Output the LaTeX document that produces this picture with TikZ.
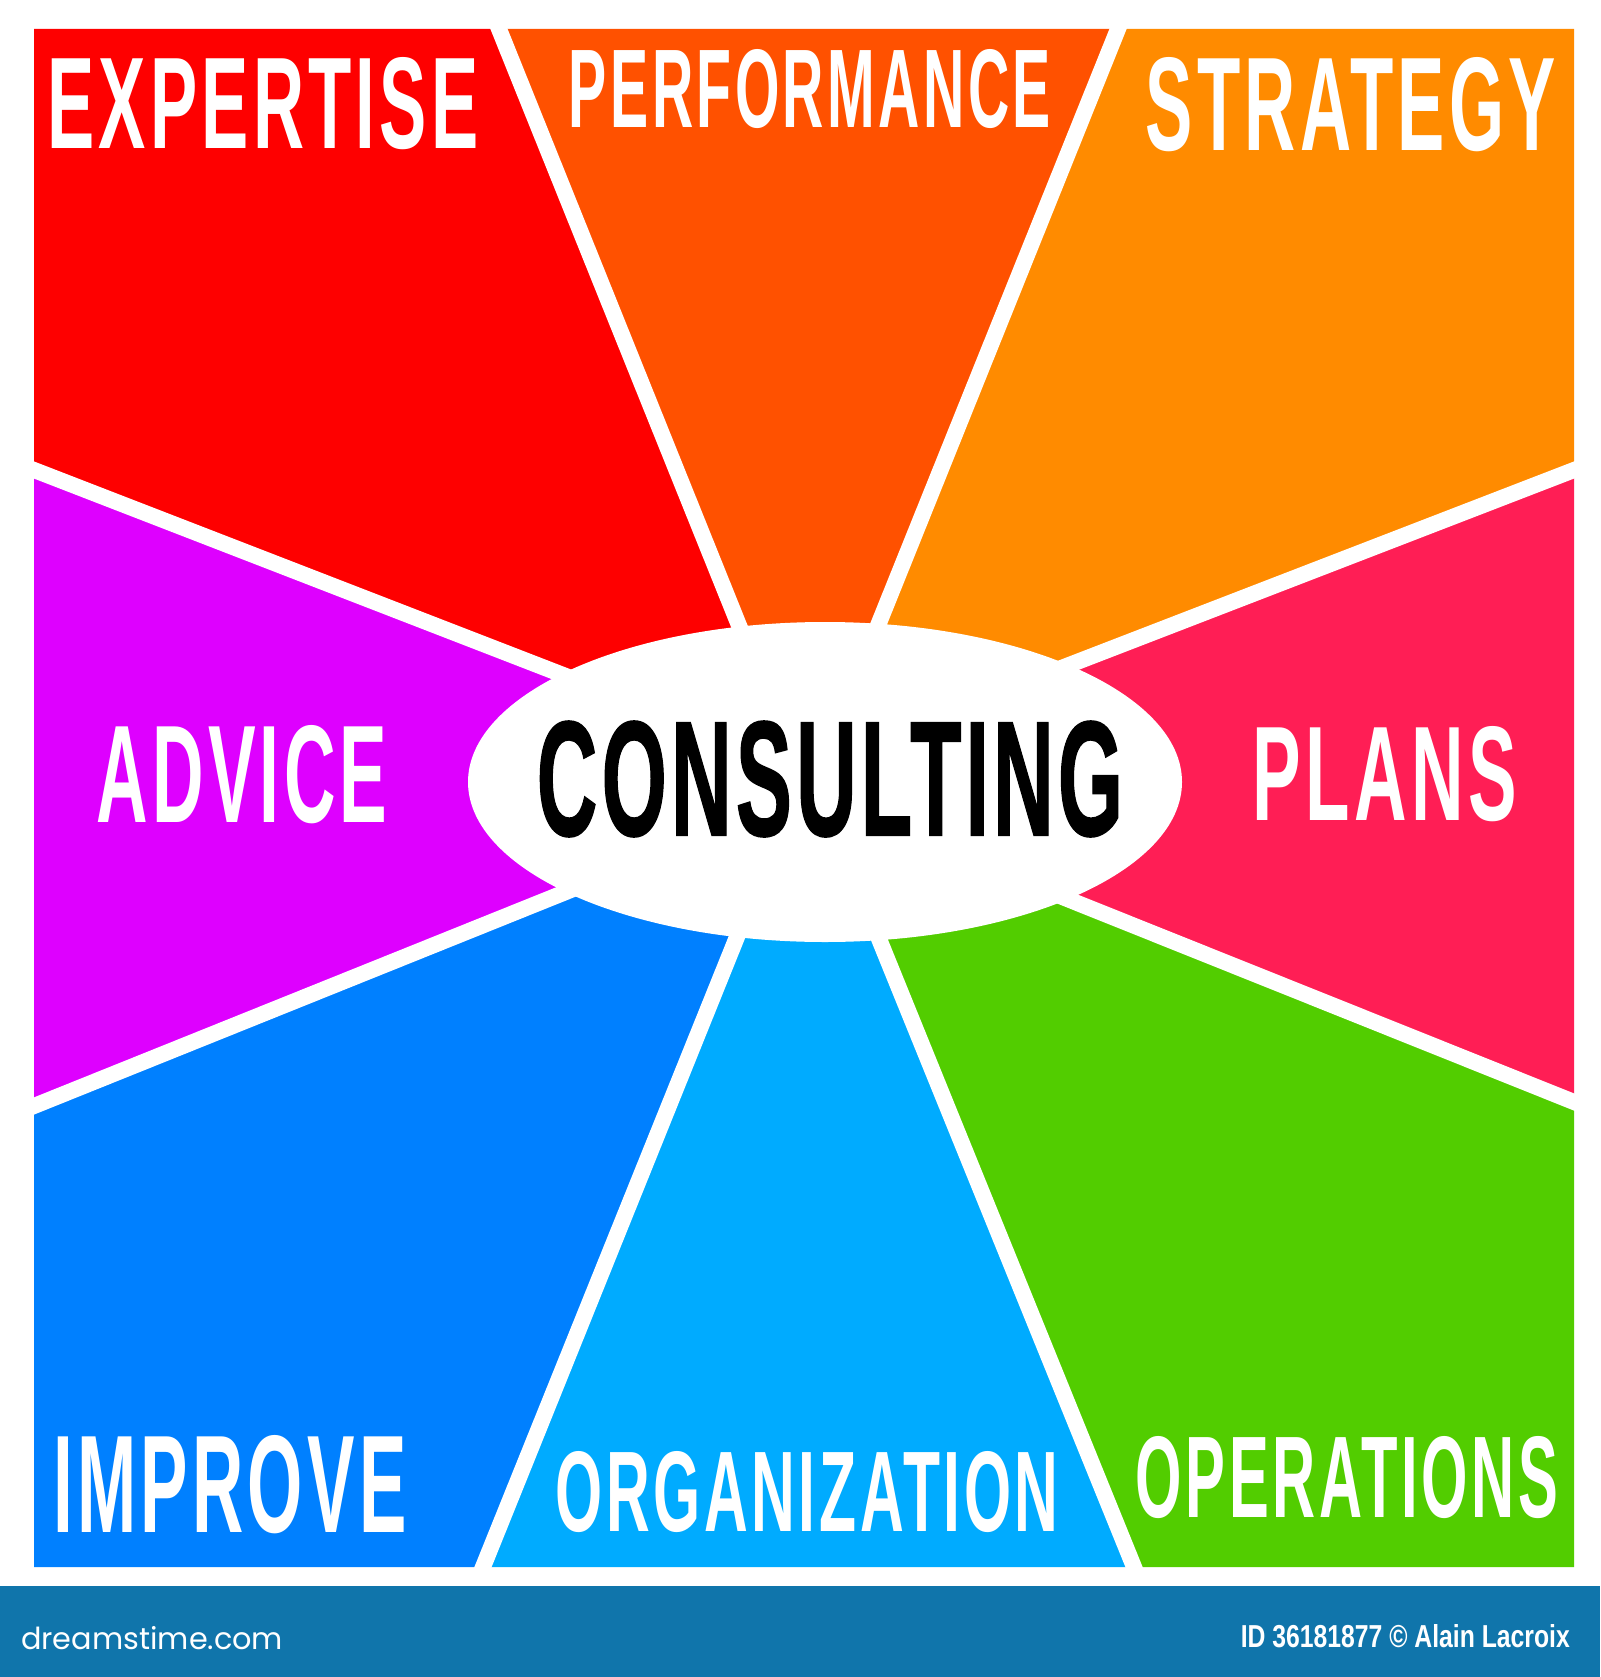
\documentclass[tikz,border=0pt]{standalone}
\usepackage{fontspec}
\usepackage{graphicx}
\usetikzlibrary{positioning}
\usetikzlibrary{calc}
\usetikzlibrary{shapes.geometric}
\setmainfont{Liberation Sans}
\newfontfamily\wedgefont{Liberation Sans}[LetterSpace=6]
\newfontfamily\hubfont{Liberation Sans}[FakeBold=1.2,LetterSpace=5]
\newfontfamily\sitefont{Poppins}

\definecolor{expertisered}{HTML}{FE0000}
\definecolor{performanceorange}{HTML}{FF5100}
\definecolor{strategyorange}{HTML}{FF8B00}
\definecolor{planspink}{HTML}{FF1E55}
\definecolor{operationsgreen}{HTML}{52CD00}
\definecolor{organizationblue}{HTML}{00ABFF}
\definecolor{improveblue}{HTML}{0080FF}
\definecolor{advicemagenta}{HTML}{DE00FF}
\definecolor{barblue}{HTML}{1075AB}

\tikzset{
  gap/.style={white, line width=16pt, shorten <=-14pt},
  wedgelabel/.style={text=white, inner sep=0pt, font=\wedgefont\bfseries},
  hub/.style={ellipse, fill=white, inner sep=0pt, minimum width=714pt, minimum height=320pt},
  hubtext/.style={inner sep=0pt, font=\hubfont\bfseries},
  bartext/.style={text=white, inner sep=0pt},
}
\newcommand{\fitbox}[3]{\resizebox{#1pt}{#2pt}{#3}}

\begin{document}
\begin{tikzpicture}[x=1pt,y=-1pt]
          \useasboundingbox (0,0) rectangle (1600,1677);
          \fill[white] (0,0) rectangle (1600,1677);

          % square corners and the middle
          \coordinate (tl) at (34,29);
          \coordinate (tr) at (1574,29);
          \coordinate (br) at (1574,1567);
          \coordinate (bl) at (34,1567);
          \coordinate (c) at (825,782);

          % white gaps: outer end on the edge, inner end under the oval
          \coordinate (gap1-out) at (499,29);    \coordinate (gap1-in) at (769,700);
          \coordinate (gap2-out) at (1118,29);   \coordinate (gap2-in) at (848,700);
          \coordinate (gap3-out) at (1574,470);  \coordinate (gap3-in) at (950,711);
          \coordinate (gap4-out) at (1574,1102); \coordinate (gap4-in) at (950,852);
          \coordinate (gap5-out) at (1134,1567); \coordinate (gap5-in) at (847,860);
          \coordinate (gap6-out) at (483,1567);  \coordinate (gap6-in) at (768,860);
          \coordinate (gap7-out) at (34,1106);   \coordinate (gap7-in) at (700,838);
          \coordinate (gap8-out) at (34,470);    \coordinate (gap8-in) at (700,728);

          \fill[expertisered] (gap8-in) -- (gap8-out) -- (tl) -- (gap1-out) -- (gap1-in) -- (c) -- cycle;
          \fill[performanceorange] (gap1-in) -- (gap1-out) -- (gap2-out) -- (gap2-in) -- (c) -- cycle;
          \fill[strategyorange] (gap2-in) -- (gap2-out) -- (tr) -- (gap3-out) -- (gap3-in) -- (c) -- cycle;
          \fill[planspink] (gap3-in) -- (gap3-out) -- (gap4-out) -- (gap4-in) -- (c) -- cycle;
          \fill[operationsgreen] (gap4-in) -- (gap4-out) -- (br) -- (gap5-out) -- (gap5-in) -- (c) -- cycle;
          \fill[organizationblue] (gap5-in) -- (gap5-out) -- (gap6-out) -- (gap6-in) -- (c) -- cycle;
          \fill[improveblue] (gap6-in) -- (gap6-out) -- (bl) -- (gap7-out) -- (gap7-in) -- (c) -- cycle;
          \fill[advicemagenta] (gap7-in) -- (gap7-out) -- (gap8-out) -- (gap8-in) -- (c) -- cycle;

          \foreach \g in {1,...,8}
            \draw[gap] (gap\g-out) -- (gap\g-in);

          \node[hub] (hub) at (c) {};
          \node[hubtext] (consulting) at (830,779) {\fitbox{586}{114}{CONSULTING}};

          \node[wedgelabel] (expertise) at (263,104) {\fitbox{431}{91}{EXPERTISE}};
          \node[wedgelabel] (performance) at (810,89) {\fitbox{482}{78}{PERFORMANCE}};
          \node[wedgelabel] (strategy) at (1351,105) {\fitbox{410}{93}{STRATEGY}};
          \node[wedgelabel] (advice) at (242,775) {\fitbox{291}{97}{ADVICE}};
          \node[wedgelabel] (plans) at (1385,774) {\fitbox{264}{94}{PLANS}};
          \node[wedgelabel] (improve) at (230,1485) {\fitbox{353}{97}{IMPROVE}};
          \node[wedgelabel] (organization) at (807,1492) {\fitbox{503}{80}{ORGANIZATION}};
          \node[wedgelabel] (operations) at (1347,1478) {\fitbox{422}{81}{OPERATIONS}};

          % credit bar
          \fill[barblue] (0,1586) rectangle (1600,1677);
          \node[bartext, anchor=west] (site) at (21,1638) {\resizebox{262pt}{!}{\sitefont dreamstime.com}};
          \node[bartext, anchor=east, font=\bfseries] (credit) at (1570,1636) {\fitbox{329}{23}{ID 36181877 © Alain Lacroix}};
\end{tikzpicture}
\end{document}
